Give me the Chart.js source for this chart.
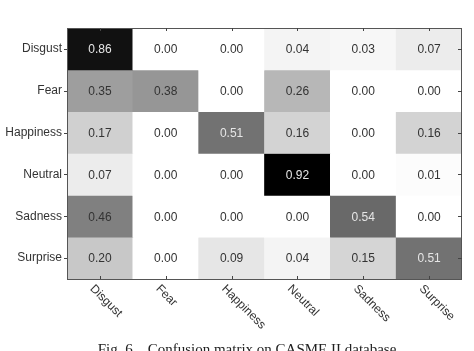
<!DOCTYPE html>
<html>
<head>
<meta charset="utf-8">
<script src="https://cdn.jsdelivr.net/npm/chart.js@4.4.1/dist/chart.umd.min.js"></script>
<style>
  html, body { margin: 0; padding: 0; background: #fff; }
  #wrap { width: 474px; height: 351px; }
</style>
</head>
<body>
<div id="wrap"><canvas id="cm"></canvas></div>
<script>
// classes (rows = true, columns = predicted)
const classes = ['Disgust', 'Fear', 'Happiness', 'Neutral', 'Sadness', 'Surprise'];

// one row per true class
const rowDisgust   = [0.86, 0.00, 0.00, 0.04, 0.03, 0.07];
const rowFear      = [0.35, 0.38, 0.00, 0.26, 0.00, 0.00];
const rowHappiness = [0.17, 0.00, 0.51, 0.16, 0.00, 0.16];
const rowNeutral   = [0.07, 0.00, 0.00, 0.92, 0.00, 0.01];
const rowSadness   = [0.46, 0.00, 0.00, 0.00, 0.54, 0.00];
const rowSurprise  = [0.20, 0.00, 0.09, 0.04, 0.15, 0.51];

const rows = [rowDisgust, rowFear, rowHappiness, rowNeutral, rowSadness, rowSurprise];

const caption = 'Fig. 6.   Confusion matrix on CASME II database';

// grey map: 0 -> white, max -> black
const vmax = 0.92;
function grey(v) {
  const g = Math.round(255 * (1 - v / vmax));
  return 'rgb(' + g + ',' + g + ',' + g + ')';
}

const datasets = rows.map((vals, r) => ({
  label: classes[r],
  data: vals.map(() => [r - 0.5, r + 0.5]),
  backgroundColor: vals.map(grey),
  borderWidth: 0,
  grouped: false,
  barPercentage: 1,
  categoryPercentage: 1
}));

// frame, ticks, cell text, rotated x labels, caption
const decor = {
  id: 'decor',
  afterDatasetsDraw(chart) {
    const ctx = chart.ctx;
    const a = chart.chartArea;
    const xs = chart.scales.x;
    const ys = chart.scales.y;
    ctx.save();

    // values in cells
    ctx.font = '12px "Liberation Sans", Arial, sans-serif';
    ctx.textAlign = 'center';
    ctx.textBaseline = 'middle';
    rows.forEach((vals, r) => {
      vals.forEach((v, c) => {
        ctx.fillStyle = v > 0.5 ? '#e6e6e6' : '#333';
        ctx.fillText(v.toFixed(2), xs.getPixelForValue(c), ys.getPixelForValue(r) + 1);
      });
    });

    // frame
    ctx.strokeStyle = '#555';
    ctx.lineWidth = 1;
    ctx.strokeRect(Math.round(a.left) + 0.5, Math.round(a.top) + 0.5,
      Math.round(a.right - a.left) - 1, Math.round(a.bottom - a.top));

    // small tick marks
    ctx.strokeStyle = '#444';
    ctx.beginPath();
    classes.forEach((_, i) => {
      const x = Math.round(xs.getPixelForValue(i)) + 0.5;
      ctx.moveTo(x, a.top); ctx.lineTo(x, a.top + 3);
      ctx.moveTo(x, a.bottom); ctx.lineTo(x, a.bottom - 3);
      const y = Math.round(ys.getPixelForValue(i)) + 0.5;
      ctx.moveTo(a.left, y); ctx.lineTo(a.left - 3, y);
      ctx.moveTo(a.right, y); ctx.lineTo(a.right - 4, y);
    });
    ctx.stroke();

    // x labels, rotated down-right
    ctx.fillStyle = '#333';
    ctx.font = '12px "Liberation Sans", Arial, sans-serif';
    ctx.textAlign = 'left';
    ctx.textBaseline = 'middle';
    classes.forEach((name, i) => {
      const x = xs.getPixelForValue(i) - 8;
      ctx.save();
      ctx.translate(x, a.bottom + 8);
      ctx.rotate(Math.PI / 4);
      ctx.fillText(name, 0, 0);
      ctx.restore();
    });

    // caption (cut off at bottom as in the scan)
    ctx.fillStyle = '#222';
    ctx.font = '15px "Liberation Serif", "Times New Roman", serif';
    ctx.textAlign = 'center';
    ctx.textBaseline = 'alphabetic';
    ctx.fillText(caption, 247, 354);

    ctx.restore();
  }
};

new Chart(document.getElementById('cm'), {
  type: 'bar',
  data: { labels: classes, datasets: datasets },
  options: {
    responsive: true,
    maintainAspectRatio: false,
    animation: false,
    layout: { padding: { top: 28, right: 12, left: 0, bottom: 0 } },
    plugins: { legend: { display: false }, tooltip: { enabled: false } },
    scales: {
      x: {
        type: 'category',
        grid: { display: false, drawTicks: false },
        border: { display: false },
        ticks: { display: false },
        afterFit(s) { s.height = 72; }
      },
      y: {
        type: 'linear',
        min: -0.5,
        max: 5.5,
        reverse: true,
        grid: { display: false, drawTicks: false },
        border: { display: false },
        afterBuildTicks(s) { s.ticks = classes.map((_, i) => ({ value: i })); },
        ticks: {
          color: '#333',
          padding: 5,
          font: { family: '"Liberation Sans", Arial, sans-serif', size: 12 },
          callback: (v) => classes[v]
        },
        afterFit(s) { s.width = 67; }
      }
    }
  },
  plugins: [decor]
});
</script>
</body>
</html>
